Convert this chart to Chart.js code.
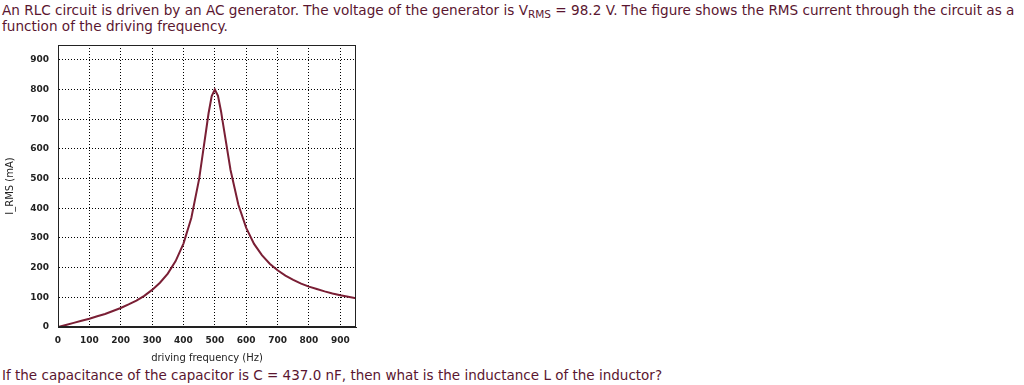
<!DOCTYPE html>
<html>
<head>
<meta charset="utf-8">
<script src="https://cdn.jsdelivr.net/npm/chart.js@4"></script>
<style>
  body { margin: 0; width: 1024px; height: 385px; background: #fff; position: relative; overflow: hidden; }
  .q { position: absolute; left: 2px; font-family: "DejaVu Sans", Verdana, sans-serif; color: #5a1630; font-size: 13.6px; line-height: 16px; white-space: nowrap; }
  #top { top: 2px; }
  #bottom { top: 367px; font-size: 13.5px; }
  sub { font-size: 10.5px; vertical-align: -3px; line-height: 0; }
  #wrap { position: absolute; left: 0; top: 40px; width: 380px; height: 330px; }
</style>
</head>
<body>
<div class="q" id="top">An RLC circuit is driven by an AC generator. The voltage of the generator is V<sub>RMS</sub> = 98.2 V. The figure shows the RMS current through the circuit as a<br>function of the driving frequency.</div>
<div class="q" id="bottom">If the capacitance of the capacitor is C = 437.0 nF, then what is the inductance L of the inductor?</div>
<div id="wrap"><canvas id="rlcChart" width="380" height="330"></canvas></div>
<script>
// values
const freqHz = [0, 25, 50, 75, 100, 125, 150, 175, 200, 225, 250, 275, 300, 325, 350, 375, 400, 425, 450, 475, 480, 490, 500, 510, 520, 525, 550, 575, 600, 625, 650, 675, 700, 725, 750, 775, 800, 825, 850, 875, 900, 925, 950];
const currentMA = [0, 7, 14, 21, 28, 36, 44, 54, 64, 76, 89, 105, 125, 149, 180, 222, 281, 367, 499, 683, 720, 778, 800, 779, 725, 692, 529, 412, 334, 280, 242, 213, 191, 173, 159, 146, 136, 128, 120, 113, 107, 102, 97];
const xTicks = [0, 100, 200, 300, 400, 500, 600, 700, 800, 900];
const yTicks = [0, 100, 200, 300, 400, 500, 600, 700, 800, 900];

const points = freqHz.map((f, i) => ({ x: f, y: currentMA[i] }));

const tickFont = { family: "DejaVu Sans", size: 9, weight: "bold" };
const titleFont = { family: "DejaVu Sans", size: 10 };

const frame = {
    id: "frame",
    afterDraw(chart) {
        const { ctx, chartArea: a } = chart;
        ctx.save();
        ctx.strokeStyle = "#222";
        ctx.lineWidth = 1;
        ctx.strokeRect(a.left + 0.5, a.top + 0.5, a.right - a.left - 1, a.bottom - a.top - 1);
        ctx.restore();
    }
};

new Chart(document.getElementById("rlcChart").getContext("2d"), {
    type: "scatter",
    data: {
        datasets: [{
            label: "I_RMS",
            data: points,
            showLine: true,
            borderColor: "#7a1f35",
            backgroundColor: "transparent",
            borderWidth: 2,
            pointRadius: 0,
            tension: 0
        }]
    },
    options: {
        responsive: false,
        animation: false,
        layout: { padding: { left: 0, right: 24, top: 5, bottom: 0 } },
        plugins: { legend: { display: false }, tooltip: { enabled: false } },
        scales: {
            x: {
                type: "linear",
                min: 0,
                max: 950,
                afterBuildTicks: (s) => { s.ticks = xTicks.map(v => ({ value: v })); },
                afterFit: (s) => { s.height = 43; s.paddingLeft = 0; s.paddingRight = 0; },
                grid: { color: "#000", lineWidth: 1, drawTicks: false },
                border: { display: true, color: "#222", dash: [1, 2] },
                ticks: { font: tickFont, color: "#222", padding: 8, maxRotation: 0 },
                title: { display: true, text: "driving frequency (Hz)", font: titleFont, color: "#222", padding: { top: 0, bottom: 6 } }
            },
            y: {
                min: 0,
                max: 950,
                afterBuildTicks: (s) => { s.ticks = yTicks.map(v => ({ value: v })); },
                afterFit: (s) => { s.width = 58; s.paddingTop = 0; s.paddingBottom = 0; },
                grid: { color: "#000", lineWidth: 1, drawTicks: false },
                border: { display: true, color: "#222", dash: [1, 2] },
                ticks: { font: tickFont, color: "#222", padding: 9 },
                title: { display: true, text: "I_RMS (mA)", font: titleFont, color: "#222", padding: { top: 4, bottom: 0 } }
            }
        }
    },
    plugins: [frame]
});
</script>
</body>
</html>
